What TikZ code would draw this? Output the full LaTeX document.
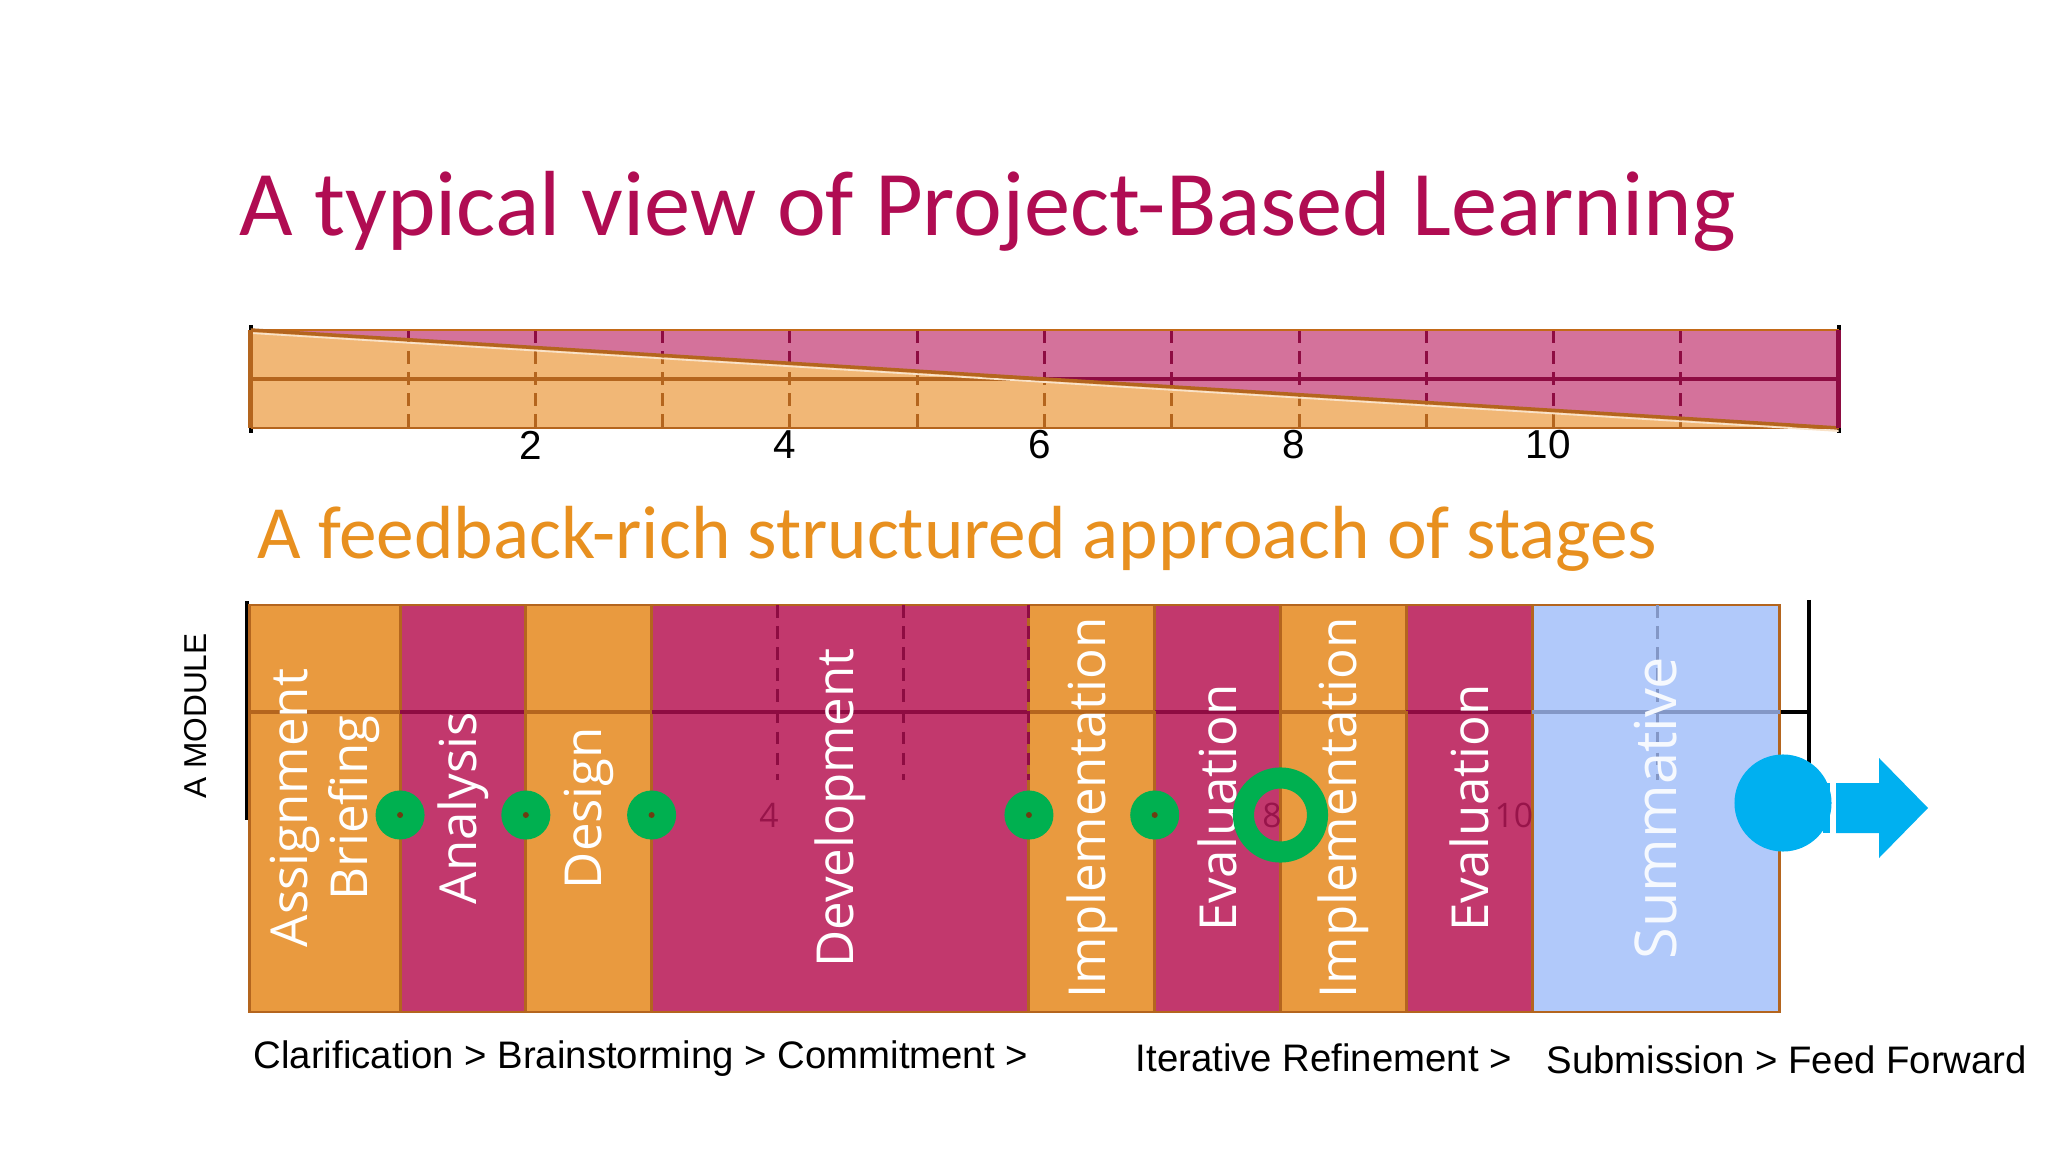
\documentclass[tikz,border=0pt]{standalone}
\usepackage{fontspec}
\setmainfont{Liberation Sans}
\newfontfamily\titlefont{Carlito}
\newfontfamily\stagefont{Open Sans}
\usetikzlibrary{positioning,calc}
\definecolor{titlered}{HTML}{B00C52}
\definecolor{subtitleorange}{HTML}{E8901F}
\definecolor{barpink}{HTML}{D4729B}
\definecolor{barorange}{HTML}{F1B776}
\definecolor{stageorange}{HTML}{E99A3F}
\definecolor{stagepink}{HTML}{C2386D}
\definecolor{stageblue}{HTML}{B1C9FA}
\definecolor{edgebrown}{HTML}{B4651E}
\definecolor{deepmaroon}{HTML}{8E0C42}
\definecolor{bluegray}{HTML}{8397C6}
\definecolor{markgreen}{HTML}{00B050}
\definecolor{outblue}{HTML}{00B0F0}
\tikzset{
  orangestage/.style={draw=edgebrown,fill=stageorange,line width=0.85pt},
  pinkstage/.style={draw=edgebrown,fill=stagepink,line width=0.85pt},
  bluestage/.style={draw=edgebrown,fill=stageblue,line width=0.85pt},
  stagelabel/.style={rotate=90,align=center,inner sep=0pt},
  tickdash/.style={dash pattern=on 3.6pt off 2.4pt,line width=0.85pt},
  midline/.style={line width=1.15pt},
  axisline/.style={draw=black,line width=1.1pt},
  ticknum/.style={font=\fontsize{11.5}{13}\selectfont,inner sep=0pt},
  boxnum/.style={font=\stagefont\fontsize{9.6}{11}\selectfont,text=deepmaroon,
                 text opacity=0.8,inner sep=0pt,anchor=east},
  caption/.style={font=\fontsize{10.9}{13}\selectfont,inner sep=0pt,anchor=west},
  gate/.style={circle,fill=markgreen,minimum size=0.49cm,inner sep=0pt},
  biggate/.style={circle,draw=markgreen,line width=6pt,minimum size=0.74cm,inner sep=0pt}
}

\begin{document}
\begin{tikzpicture}[x=0.01cm,y=-0.01cm]
    \path[use as bounding box] (0,0) rectangle (2048,1152);
    \fill[white] (0,0) rectangle (2048,1152);

    \node[anchor=base west,inner sep=0pt,text=titlered,
          font=\titlefont\fontsize{26.3}{30}\selectfont] (title) at (239,236)
      {A typical view of Project-Based Learning};

    % the shrinking bar
    \begin{scope}[shift={(280.8,0)},x=1.272cm]
      \draw[axisline] (-0.236,325) -- (-0.236,433);
      \draw[axisline] (12.24,325) -- (12.24,433);
      \fill[barpink] (-0.236,330) rectangle (12.24,428);
      \fill[barorange] (-0.236,330) -- (-0.236,428) -- (12.24,428) -- cycle;
      \foreach \t in {1,...,11}
        \draw[tickdash,deepmaroon] (\t,330) -- (\t,428);
      \draw[midline,deepmaroon] (-0.236,379) -- (12.24,379);
      \begin{scope}
        \clip (-0.236,330) -- (-0.236,428) -- (12.24,428) -- cycle;
        \foreach \t in {1,...,11}
          \draw[tickdash,edgebrown] (\t,330) -- (\t,428);
        \draw[midline,edgebrown] (-0.236,379) -- (12.24,379);
      \end{scope}
      \draw[edgebrown!80!orange,line width=0.8pt] (-0.236,330) -- (12.24,330);
      \draw[edgebrown,line width=0.8pt] (-0.236,428) -- (12.24,428);
      \draw[white!60!barorange,line width=0.5pt] (-0.236,333) -- (12.24,431);
      \draw[edgebrown,line width=1pt] (-0.236,330) -- (12.24,428);
      \draw[edgebrown,line width=1.3pt] (-0.236,330) -- (-0.236,428);
      \draw[deepmaroon,line width=1.3pt] (12.24,330) -- (12.24,428);
      \foreach \n in {2,4,...,10}
        \node[ticknum] (top\n) at (\n-0.04,445) {\n};
    \end{scope}

    \node[anchor=base west,inner sep=0pt,text=subtitleorange,
          font=\titlefont\fontsize{21.4}{25}\selectfont] (subtitle) at (257,559)
      {A feedback-rich structured approach of stages};

    \node[rotate=90,font=\fontsize{9}{11}\selectfont,inner sep=0pt] (module)
      at (196,716) {A MODULE};

    % the stages of a module
    \begin{scope}[shift={(274.3,0)},x=1.257cm]
      \draw[axisline] (-0.215,601) -- (-0.215,820);
      \draw[axisline] (12.2,600) -- (12.2,790);
      \draw[axisline] (11.97,712) -- (12.2,712);
      \foreach \xa/\xb/\kind/\mid [count=\i] in
        {-0.2/1/orangestage/edgebrown,
         1/2/pinkstage/deepmaroon,
         2/3/orangestage/edgebrown,
         3/6/pinkstage/deepmaroon,
         6/7/orangestage/edgebrown,
         7/8/pinkstage/deepmaroon,
         8/9/orangestage/edgebrown,
         9/10/pinkstage/deepmaroon,
         10/11.97/bluestage/bluegray}
      {
        \filldraw[\kind] (\xa,605) rectangle (\xb,1012);
        \draw[midline,draw=\mid] (\xa,712) -- (\xb,712);
      }
      \foreach \t/\c in {4/deepmaroon,5/deepmaroon,6/deepmaroon,
                         7/edgebrown,9/edgebrown,11/bluegray}
        \draw[tickdash,draw=\c] (\t,605) -- (\t,780);
      \foreach \n in {4,8,10}
        \node[boxnum] (low\n) at (\n+0.015,815) {\n};
      \foreach \xa/\xb/\fs/\tc/\lbl [count=\i] in
        {-0.2/1/14.5/white/{Assignment\\Briefing},
         1/2/14.5/white/Analysis,
         2/3/14.5/white/Design,
         3/6/14.5/white/Development,
         6/7/14.5/white/Implementation,
         7/8/14.5/white/Evaluation,
         8/9/14.5/white/Implementation,
         9/10/14.5/white/Evaluation,
         10/11.97/16.4/white!88!stageblue/Summative}
        \node[stagelabel,text=\tc,font=\stagefont\fontsize{\fs}{17}\selectfont]
          (stage\i) at ({(\xa+\xb)/2},808) {\lbl};
      \foreach \g in {1,2,3,6,7}
      {
        \node[gate] (gate\g) at (\g,815) {};
        \fill[edgebrown!60!black] (gate\g.center) circle[radius=0.03cm];
      }
      \node[biggate] (gate8) at (8,815) {};
    \end{scope}

    % submission and feed forward
    \fill[outblue] (1812,783) rectangle (1818,833);
    \fill[outblue] (1823,783) rectangle (1830,833);
    \fill[outblue] (1836,783) -- (1879,783) -- (1879,758) -- (1928,808)
      -- (1879,858) -- (1879,833) -- (1836,833) -- cycle;
    \node[circle,fill=outblue,minimum size=0.97cm,inner sep=0pt] (submit)
      at (1783,803) {};

    \node[caption] (cap1) at (253,1059)
      {Clarification > Brainstorming > Commitment >};
    \node[caption] (cap2) at (1135,1058) {Iterative Refinement >};
    \node[caption] (cap3) at (1546,1060) {Submission > Feed Forward};
  \end{tikzpicture}
\end{document}
